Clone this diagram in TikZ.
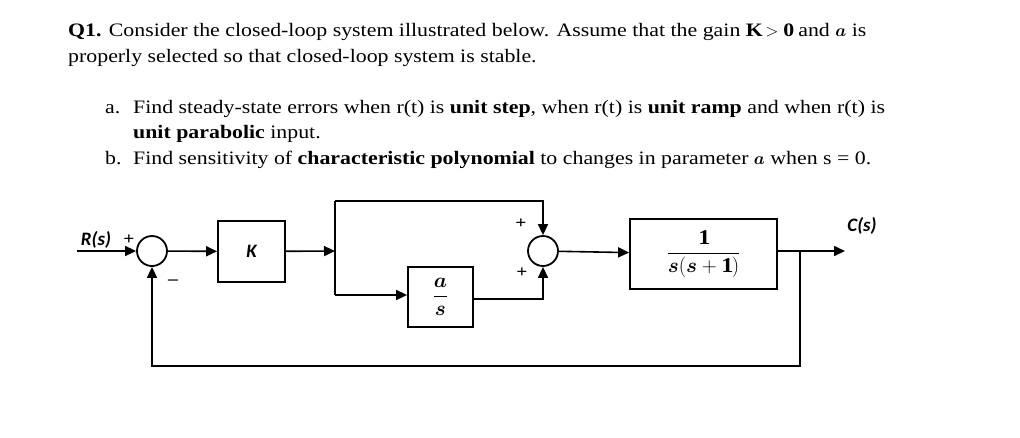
\documentclass[tikz,border=0pt]{standalone}
\usepackage{amsmath,bm}
\usepackage{fontspec}
\setmainfont[FakeStretch=1.15]{Liberation Serif}
\newfontfamily\lblfont{Carlito}
\usetikzlibrary{arrows.meta}
\begin{document}
\begin{tikzpicture}[x=1pt,y=-1pt,
  txt/.style={anchor=base west,inner sep=0pt,font=\fontsize{19}{22}\selectfont},
  blk/.style={draw,line width=1.8pt,inner sep=0pt},
  sumc/.style={draw,circle,line width=1.8pt,minimum size=30pt,inner sep=0pt},
  lbl/.style={font=\lblfont\bfseries\itshape\fontsize{19}{21}\selectfont,inner sep=0pt},
  sg/.style={font=\bfseries\fontsize{17}{19}\selectfont,inner sep=0pt},
  con/.style={line width=1.6pt},
  arr/.style={con,-{Triangle[length=11pt,width=10pt]}}]
\useasboundingbox (0,0) rectangle (1020,437);
\node[txt] (l1) at (68,36) {\textbf{Q1.} Consider the closed-loop system illustrated below. Assume that the gain $\mathbf{K>0}$ and $\bm{a}$ is};
\node[txt] (l2) at (68,62) {properly selected so that closed-loop system is stable.};
\node[txt] (a1) at (105,113) {a.};
\node[txt] (a2) at (133,113) {Find steady-state errors when r(t) is \textbf{unit step}, when r(t) is \textbf{unit ramp} and when r(t) is};
\node[txt] (a3) at (133,138) {\textbf{unit parabolic} input.};
\node[txt] (b1) at (105,164) {b.};
\node[txt] (b2) at (133,164) {Find sensitivity of \textbf{characteristic polynomial} to changes in parameter $\bm{a}$ when s = 0.};

\node[sumc] (s1) at (152,251) {};
\node[blk,minimum width=67pt,minimum height=61pt] (K) at (251.5,251.5) {\lblfont\bfseries\itshape\fontsize{19}{21}\selectfont K};
\coordinate (j) at (335,251);
\coordinate (jt) at (335,201);
\coordinate (jb) at (335,295);
\node[blk,minimum width=65pt,minimum height=60pt] (A) at (440.5,297) {\fontsize{21}{24}\selectfont$\dfrac{\bm{a}}{\bm{s}}$};
\node[sumc] (s2) at (543,251) {};
\node[blk,minimum width=147pt,minimum height=70pt] (G) at (703.5,254) {\fontsize{21}{24}\selectfont$\dfrac{\mathbf{1}}{\bm{s}(\bm{s}+\mathbf{1})}$};
\coordinate (in) at (77,251);
\coordinate (out) at (845,251);
\coordinate (br) at (800,251);
\coordinate (fb) at (800,366);

\draw[arr] (in) -- (s1);
\draw[arr] (s1) -- (K);
\draw[arr] (K) -- (j);
\draw[con] (jt) -- (jb);
\draw[arr] (jt) -| (s2);
\draw[arr] (jb) -- (A.west|-jb);
\draw[arr] (A.east|-299,299) -| (s2);
\draw[arr] (s2) -- (G);
\draw[arr] (G.east|-br) -- (out);
\draw[arr] (br) -- (fb) -| (s1);

\node[lbl] (R) at (96,240) {R(s)};
\node[lbl] (C) at (862,226) {C(s)};
\node[sg] (p1) at (129,240) {+};
\node[sg] (m1) at (173,282) {--};
\node[sg] (p2) at (521,224) {+};
\node[sg] (p3) at (522,273) {+};
\end{tikzpicture}
\end{document}
